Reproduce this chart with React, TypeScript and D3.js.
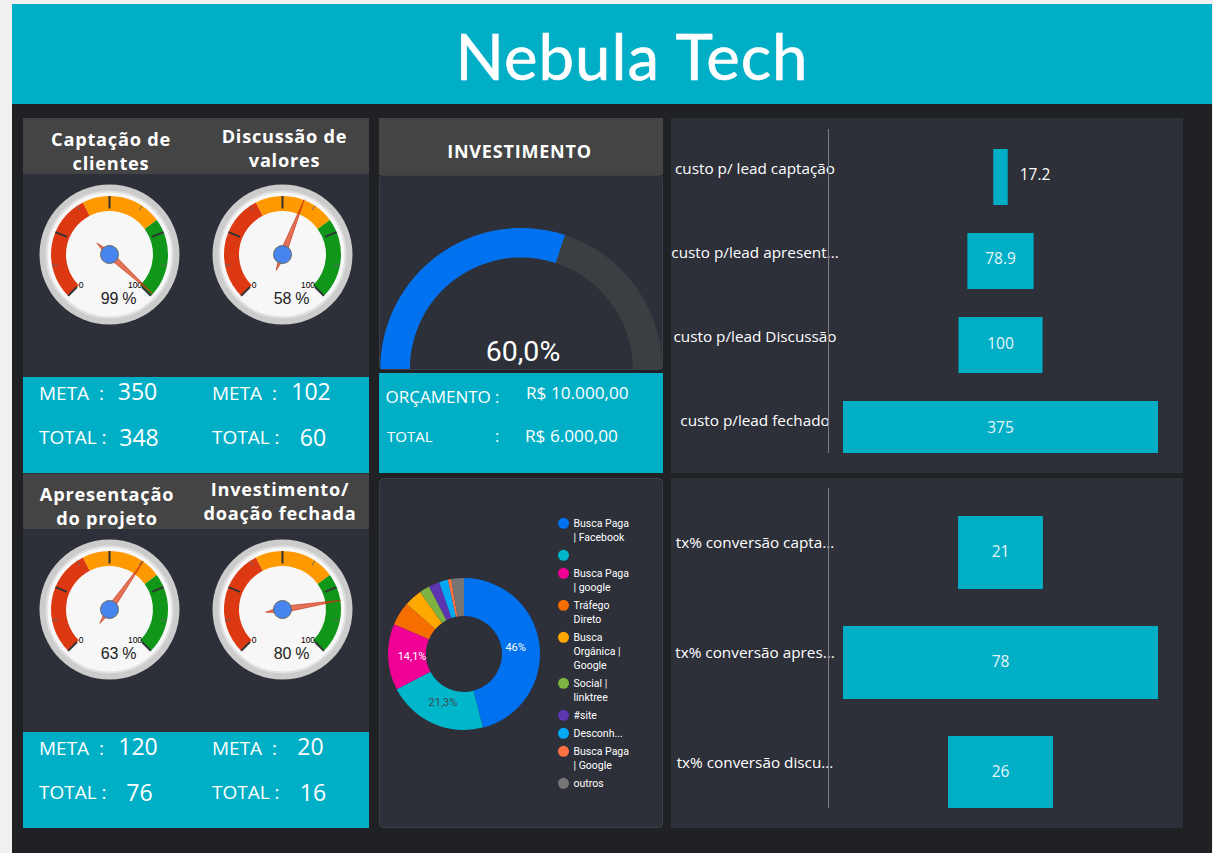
// Nebula Tech dashboard - gauges, donut and funnel bars drawn with D3

import { useEffect, useRef } from "react";
import * as d3 from "d3";

const WIDTH = 1213;
const HEIGHT = 853;

const TEAL = "#00afc6";
const PANEL = "#2d2f39";
const HEADER = "#444444";
const FONT = "'Open Sans', 'Noto Sans', sans-serif";

// Gauge values
const gaugeValues = [99, 58, 63, 80];
const gaugeMetas = [350, 102, 120, 20];
const gaugeTotals = [348, 60, 76, 16];
const gaugeTitles = [
  ["Captação de", "clientes"],
  ["Discussão de", "valores"],
  ["Apresentação", "do projeto"],
  ["Investimento/", "doação fechada"],
];
const zoneLimits = [0, 40, 70, 100];
const zoneColors = ["#dc3912", "#ff9900", "#109618"];
const gaugeTicks = [0, 12.5, 25, 37.5, 50, 62.5, 75, 87.5, 100];

// Investment half gauge
const investmentPct = 60;
const investmentRows = [
  ["ORÇAMENTO", "R$ 10.000,00"],
  ["TOTAL", "R$ 6.000,00"],
];

// Donut
const sliceNames = [
  "Busca Paga | Facebook",
  "",
  "Busca Paga | google",
  "Tráfego Direto",
  "Busca Orgânica | Google",
  "Social | linktree",
  "#site",
  "Desconh...",
  "Busca Paga | Google",
  "outros",
];
const sliceValues = [46, 21.3, 14.1, 5, 3.8, 2.2, 2.3, 1.9, 0.7, 2.7];
const sliceColors = [
  "#0072f0",
  "#00b6cb",
  "#f10096",
  "#f66d00",
  "#ffa800",
  "#7cb342",
  "#5e35b1",
  "#03a9f4",
  "#ff7043",
  "#757575",
];
const legendLines = [
  ["Busca Paga", "| Facebook"],
  [""],
  ["Busca Paga", "| google"],
  ["Tráfego", "Direto"],
  ["Busca", "Orgânica |", "Google"],
  ["Social |", "linktree"],
  ["#site"],
  ["Desconh..."],
  ["Busca Paga", "| Google"],
  ["outros"],
];

// Funnel bars
const costCategories = [
  "custo p/ lead captação",
  "custo p/lead apresent...",
  "custo p/lead Discussão",
  "custo p/lead fechado",
];
const costValues = [17.2, 78.9, 100, 375];
const rateCategories = [
  "tx% conversão capta...",
  "tx% conversão apres...",
  "tx% conversão discu...",
];
const rateValues = [21, 78, 26];

type Sel = d3.Selection<any, unknown, null, undefined>;

function rect(g: Sel, x: number, y: number, w: number, h: number, fill: string) {
  return g.append("rect").attr("x", x).attr("y", y).attr("width", w).attr("height", h).attr("fill", fill);
}

function label(
  g: Sel,
  x: number,
  y: number,
  str: string,
  size: number,
  opts: { anchor?: string; weight?: number; fill?: string; family?: string; spacing?: number } = {}
) {
  return g
    .append("text")
    .attr("x", x)
    .attr("y", y)
    .attr("text-anchor", opts.anchor ?? "start")
    .attr("fill", opts.fill ?? "#ffffff")
    .attr("font-family", opts.family ?? FONT)
    .attr("font-weight", opts.weight ?? 400)
    .attr("letter-spacing", opts.spacing ?? 0)
    .style("font-size", `${size}px`)
    .text(str);
}

function drawGauge(root: Sel, cx: number, cy: number, value: number) {
  const g = root.append("g").attr("transform", `translate(${cx},${cy})`);
  const angle = d3.scaleLinear().domain([0, 100]).range([-135, 135]);
  const rad = (v: number) => (angle(v) * Math.PI) / 180;

  g.append("circle").attr("r", 70).attr("fill", "#cccccc");
  g.append("circle").attr("r", 63).attr("fill", "#f7f7f7").attr("stroke", "#e0e0e0").attr("stroke-width", 2);

  const zoneArc = d3.arc<any>().innerRadius(43.5).outerRadius(58.5);
  zoneColors.forEach((color, i) => {
    g.append("path")
      .attr("d", zoneArc({ startAngle: rad(zoneLimits[i]), endAngle: rad(zoneLimits[i + 1]) }))
      .attr("fill", color);
  });

  gaugeTicks.forEach((t, i) => {
    const major = i % 2 === 0;
    const r0 = major ? 46 : 53;
    const a = rad(t);
    g.append("line")
      .attr("x1", Math.sin(a) * r0)
      .attr("y1", -Math.cos(a) * r0)
      .attr("x2", Math.sin(a) * 58.5)
      .attr("y2", -Math.cos(a) * 58.5)
      .attr("stroke", major ? "#333333" : "#666666")
      .attr("stroke-width", major ? 2 : 1);
  });

  label(g, -28.5, 33.5, "0", 8.5, { anchor: "middle", family: "'Liberation Sans', Arial", fill: "#000" });
  label(g, 25.5, 33.5, "100", 8.5, { anchor: "middle", family: "'Liberation Sans', Arial", fill: "#000" });
  label(g, 9, 49.5, `${value} %`, 16, { anchor: "middle", family: "'Liberation Sans', Arial", fill: "#222", spacing: -0.3 });

  // Needle
  g.append("path")
    .attr("d", "M0,-59 L3.2,0 L0,17 L-3.2,0 Z")
    .attr("transform", `rotate(${angle(value)})`)
    .attr("fill", "#dc3912")
    .attr("fill-opacity", 0.7)
    .attr("stroke", "#c63310")
    .attr("stroke-width", 0.6);

  g.append("circle").attr("r", 9).attr("fill", "#4684ee").attr("stroke", "#666666").attr("stroke-width", 1);
}

function drawBars(
  root: Sel,
  id: string,
  categories: string[],
  values: number[],
  top: number,
  bottom: number,
  bandTop: number,
  bandBottom: number,
  padding: number,
  labelDy: number
) {
  const maxV = d3.max(values) as number;
  const axisX = 828.5;
  const half = d3.scaleLinear().domain([0, maxV]).range([0, 157.5]);
  const y = d3.scaleBand<string>().domain(categories).range([bandTop, bandBottom]).paddingInner(padding).paddingOuter(padding / 2);
  const mid = 1000.5;

  root
    .append("clipPath")
    .attr("id", id)
    .append("rect")
    .attr("x", 671)
    .attr("y", top)
    .attr("width", 512)
    .attr("height", bottom - top);

  const bars = root.append("g").attr("clip-path", `url(#${id})`);
  categories.forEach((c, i) => {
    const w = half(values[i]);
    rect(bars, mid - w, y(c) as number, w * 2, y.bandwidth(), TEAL);
    const center = (y(c) as number) + y.bandwidth() / 2;
    if (w * 2 < 30) {
      label(root, mid + w + 12, center + 3, String(values[i]), 15.5);
    } else {
      label(root, mid, center + (i === 1 && categories.length === 4 ? 3 : 4), String(values[i]), 15.5, {
        anchor: "middle",
        fill: "#e6f6f9",
      });
    }
  });

  const axis = d3.axisLeft(y).tickSize(0).tickPadding(0);
  const ag = root.append("g").attr("transform", `translate(${axisX},0)`).call(axis);
  ag.select(".domain").remove();
  ag.selectAll("text")
    .attr("x", 755 - axisX)
    .attr("dy", labelDy)
    .attr("text-anchor", "middle")
    .attr("fill", "#ffffff")
    .attr("font-family", FONT)
    .style("font-size", "15.3px");

  root
    .append("line")
    .attr("x1", axisX)
    .attr("x2", axisX)
    .attr("y1", top)
    .attr("y2", bottom)
    .attr("stroke", "#7b7d84")
    .attr("stroke-width", 1);
}

export default function App() {
  const svgRef = useRef<SVGSVGElement>(null);

  useEffect(() => {
    if (!svgRef.current) return;
    const svg = d3.select(svgRef.current) as unknown as Sel;
    svg.selectAll("*").remove();

    // Page frame
    rect(svg, 0, 0, WIDTH, HEIGHT, "#f0f0f0");
    rect(svg, 12, 4, 1200, HEIGHT - 4, "#202124");
    rect(svg, 12, 4, 1200, 100, TEAL);
    label(svg, 632, 80, "Nebula Tech", 63.5, {
      anchor: "middle",
      family: "'Comic Sans MS', Lato, sans-serif",
      spacing: 1,
    })
      .attr("stroke", "#ffffff")
      .attr("stroke-width", 0.6)
      .attr("stroke-linejoin", "round");

    // Left column
    rect(svg, 23, 118, 346, 355, PANEL);
    rect(svg, 23, 473, 346, 355, PANEL);
    rect(svg, 23, 118, 346, 56, HEADER);
    rect(svg, 23, 474, 346, 55, HEADER);
    rect(svg, 23, 377, 346, 96, TEAL);
    rect(svg, 23, 732, 346, 96, TEAL);

    const gaugeX = [109.5, 282.5];
    const gaugeY = [254.5, 609.5];
    const titleX = [111, 284.5, 107, 280];
    const titleY = [146, 143, 501, 496];
    const metaNumX = [137.5, 311, 138, 310.5];
    const totalNumX = [139, 313, 139.5, 313];

    gaugeValues.forEach((v, i) => {
      const col = i % 2;
      const row = Math.floor(i / 2);
      const dy = row * 355;
      drawGauge(svg, gaugeX[col], gaugeY[row], v);
      gaugeTitles[i].forEach((t, j) => {
        label(svg, titleX[i], titleY[i] + j * 24, t, 18.2, { anchor: "middle", weight: 700, spacing: 0.75 });
      });
      const lx = col === 0 ? 39 : 212;
      label(svg, lx, 400 + dy, "META  :", 19).style("white-space", "pre");
      label(svg, lx, 444 + dy, "TOTAL :", 19);
      label(svg, metaNumX[i], 400 + dy, String(gaugeMetas[i]), 23, { anchor: "middle" });
      label(svg, totalNumX[i], 446 + dy, String(gaugeTotals[i]), 23, { anchor: "middle" });
    });

    // Investment column
    rect(svg, 379, 118, 284, 57, HEADER);
    svg
      .append("rect")
      .attr("x", 379.5)
      .attr("y", 175.5)
      .attr("width", 283)
      .attr("height", 194)
      .attr("rx", 3)
      .attr("fill", PANEL)
      .attr("stroke", "#3c3f48");
    rect(svg, 379, 373, 284, 100, TEAL);
    label(svg, 519.5, 158, "INVESTIMENTO", 18, { anchor: "middle", weight: 700, spacing: 0.8 });

    const half = svg.append("g").attr("transform", "translate(521.3,369)");
    const pct = d3.scaleLinear().domain([0, 100]).range([-Math.PI / 2, Math.PI / 2]);
    const halfArc = d3.arc<any>().innerRadius(111.5).outerRadius(141);
    half.append("path").attr("d", halfArc({ startAngle: pct(0), endAngle: pct(100) })).attr("fill", "#3b3f42");
    half.append("path").attr("d", halfArc({ startAngle: pct(0), endAngle: pct(investmentPct) })).attr("fill", "#0072f0");
    label(svg, 523, 361, `${investmentPct},0%`, 28.5, { anchor: "middle", family: "Roboto, sans-serif" });

    label(svg, 385.5, 403, investmentRows[0][0], 17);
    label(svg, 495, 403, ":", 16);
    label(svg, 526, 398.5, investmentRows[0][1], 17.2);
    label(svg, 387, 442, investmentRows[1][0], 15);
    label(svg, 495, 442, ":", 16);
    label(svg, 525, 441.5, investmentRows[1][1], 17.2);

    // Donut panel
    svg
      .append("rect")
      .attr("x", 379.5)
      .attr("y", 478.5)
      .attr("width", 283)
      .attr("height", 349)
      .attr("rx", 4)
      .attr("fill", PANEL)
      .attr("stroke", "#3c3f48");

    const donut = svg.append("g").attr("transform", "translate(464,654)");
    const pie = d3.pie<number>().sort(null).value((d) => d);
    const sliceArc = d3.arc<any>().innerRadius(38).outerRadius(76);
    const labelArc = d3.arc<any>().innerRadius(52).outerRadius(52);
    const arcs = pie(sliceValues);
    arcs.forEach((a, i) => {
      donut.append("path").attr("d", sliceArc(a)).attr("fill", sliceColors[i]);
    });
    arcs.slice(0, 3).forEach((a, i) => {
      const [x, y] = labelArc.centroid(a);
      label(donut, x, y + 4, `${String(sliceValues[i]).replace(".", ",")}%`, 11, {
        anchor: "middle",
        family: "Roboto, sans-serif",
        fill: i === 1 ? "#3c4650" : "#ffffff",
      });
    });

    const legendY = [523.3, 555.3, 573.3, 605.3, 637.3, 683.3, 715.3, 733.3, 751.3, 783.3];
    sliceNames.forEach((name, i) => {
      svg.append("circle").attr("cx", 563.5).attr("cy", legendY[i]).attr("r", 5.5).attr("fill", sliceColors[i]).append("title").text(name);
      legendLines[i].forEach((line, j) => {
        label(svg, 573.5, legendY[i] + 4 + j * 14, line, 10.5, { family: "Roboto, sans-serif" });
      });
    });

    // Right column
    rect(svg, 671, 118, 512, 355, PANEL);
    rect(svg, 671, 478, 512, 350, PANEL);
    drawBars(svg, "clip-cost", costCategories, costValues, 129, 453, 135, 471, 1 / 3, -3);
    drawBars(svg, "clip-rate", rateCategories, rateValues, 488, 808, 497.5, 827.5, 37 / 110, -5);
  }, []);

  return (
    <svg
      ref={svgRef}
      width={WIDTH}
      height={HEIGHT}
      style={{ position: "fixed", left: 0, top: 0, display: "block" }}
    />
  );
}
